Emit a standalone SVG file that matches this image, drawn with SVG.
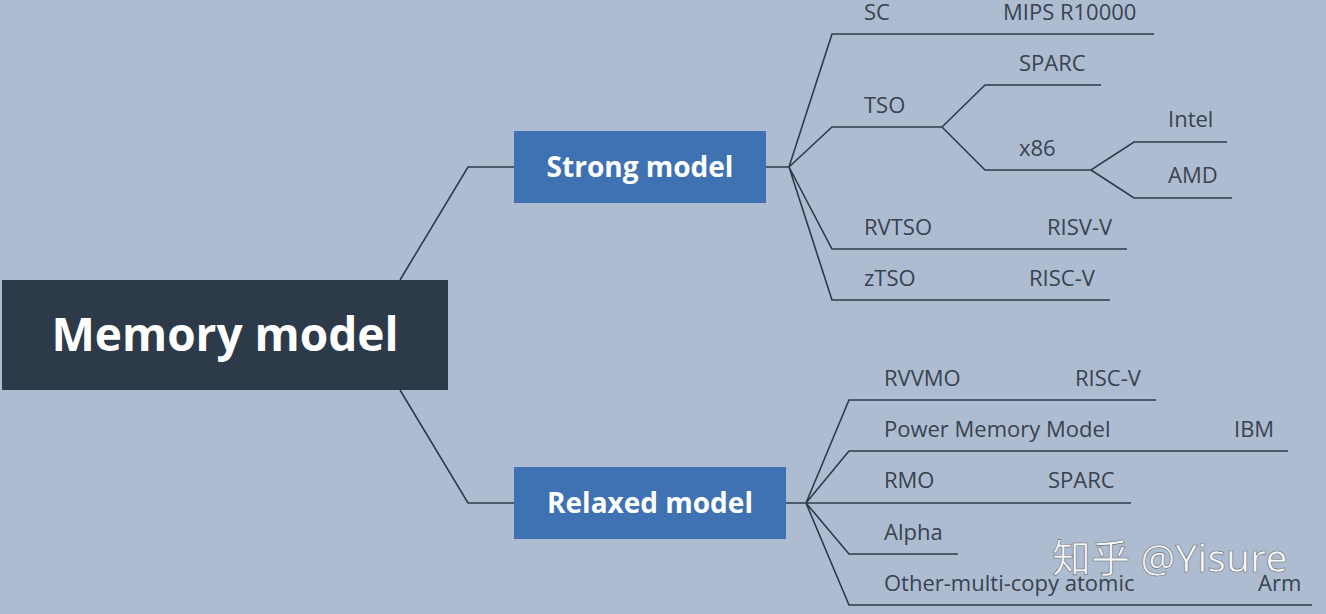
<svg xmlns="http://www.w3.org/2000/svg" width="1326" height="614" viewBox="0 0 1326 614">
<style>
.l{fill:none;stroke:#2e3a48;stroke-width:1.6}
.t{font-family:"Open Sans",sans-serif;font-size:22px;fill:#3a4250}
.b{font-family:"Open Sans",sans-serif;font-weight:bold;fill:#fff}
</style>
<rect width="1326" height="614" fill="#adbcd1"/>
<g id="connectors">
<path class="l" d="M400,280 L468,167 H514 M400,390 L468,503 H514"/>
<path class="l" d="M766,167 H789 L832,34 H1154 M789,167 L832,127 H942 M789,167 L832,249 H1127 M789,167 L832,300 H1110"/>
<path class="l" d="M942,127 L985,85 H1101 M942,127 L985,170 H1091 L1134,142 H1227 M1091,170 L1134,198 H1232"/>
<path class="l" d="M786,503 H806 L849,400 H1156 M806,503 L849,451 H1288 M806,503 H1131 M806,503 L849,554 H958 M806,503 L849,605 H1312"/>
</g>
<g id="root"><rect x="2" y="280" width="446" height="110" fill="#2c3a4a"/><text class="b" x="225" y="351" font-size="46" text-anchor="middle">Memory model</text></g>
<g id="strong"><rect x="514" y="131" width="252" height="72" fill="#3e72b3"/><text class="b" x="640" y="177" font-size="28" text-anchor="middle">Strong model</text></g>
<g id="relaxed"><rect x="514" y="467" width="272" height="72" fill="#3e72b3"/><text class="b" x="650" y="513" font-size="28" text-anchor="middle">Relaxed model</text></g>
<g id="sc"><text class="t" x="864" y="20">SC</text><text class="t" x="1003" y="20">MIPS R10000</text></g>
<g id="tso"><text class="t" x="864" y="113">TSO</text></g>
<g id="sparc1"><text class="t" x="1019" y="71">SPARC</text></g>
<g id="x86"><text class="t" x="1019" y="156">x86</text></g>
<g id="intel"><text class="t" x="1168" y="127">Intel</text></g>
<g id="amd"><text class="t" x="1168" y="183">AMD</text></g>
<g id="rvtso"><text class="t" x="864" y="235">RVTSO</text><text class="t" x="1047" y="235">RISV-V</text></g>
<g id="ztso"><text class="t" x="864" y="286">zTSO</text><text class="t" x="1029" y="286">RISC-V</text></g>
<g id="rvvmo"><text class="t" x="884" y="386">RVVMO</text><text class="t" x="1075" y="386">RISC-V</text></g>
<g id="power"><text class="t" x="884" y="437">Power Memory Model</text><text class="t" x="1234" y="437">IBM</text></g>
<g id="rmo"><text class="t" x="884" y="488">RMO</text><text class="t" x="1048" y="488">SPARC</text></g>
<g id="alpha"><text class="t" x="884" y="540">Alpha</text></g>
<g id="other"><text class="t" x="884" y="591">Other-multi-copy atomic</text><text class="t" x="1258" y="591">Arm</text></g>
<text x="1052" y="572" font-family="'Noto Sans','Noto Sans CJK SC',sans-serif" font-size="39" fill="#fff" stroke="#666" stroke-width="0.6" opacity="0.9">知乎 @Yisure</text>
</svg>
